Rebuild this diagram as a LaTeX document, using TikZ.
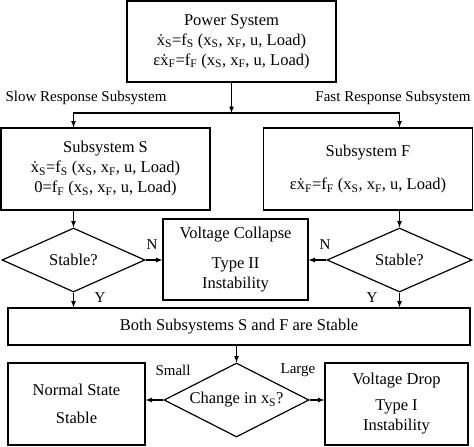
\documentclass[tikz,border=0pt]{standalone}
\usepackage{fontspec}
\setmainfont{Liberation Serif}
\usetikzlibrary{arrows, positioning, shapes.geometric}

\newcommand{\xdot}{\ooalign{x\cr\hidewidth˙\hidewidth\cr}}
\newcommand{\idx}[1]{\textsubscript{#1}}
\newcommand{\args}{(x\idx{S}, x\idx{F}, u, Load)}

\begin{document}
\begin{tikzpicture}
  [x = 1pt, y = -1pt, >=latex, line width = 1.2pt,
   font = \fontsize{16.5}{20}\selectfont,
   block/.style    = {draw, align=center, inner sep=0pt},
   decision/.style = {draw, diamond, aspect=2, inner sep=0pt},
   tag/.style      = {inner sep=0pt, font=\fontsize{15}{18}\selectfont}]

  \useasboundingbox (0,0) rectangle (474,447);

  \node[block, minimum width=209pt, minimum height=81pt] (power system) at (231.5,41.5)
    {Power System\\ \xdot\idx{S}=f\idx{S} \args\\ ε\xdot\idx{F}=f\idx{F} \args};
  \coordinate (split) at (231.5,113);

  \node[tag] (slow) at (86,98)  {Slow Response Subsystem};
  \node[tag] (fast) at (393,98) {Fast Response Subsystem};

  \node[block, minimum width=209pt, minimum height=82pt] (subsystem S) at (105.5,169)
    {Subsystem S\\ \xdot\idx{S}=f\idx{S} \args\\ 0=f\idx{F} \args};
  \node[block, minimum width=209pt, minimum height=82pt] (subsystem F) at (368,169)
    {Subsystem F\\[13pt] ε\xdot\idx{F}=f\idx{F} \args};

  \node[decision, minimum width=143pt, minimum height=64pt] (stable S) at (73.5,260) {Stable?};
  \node[decision, minimum width=145pt, minimum height=64pt] (stable F) at (399.5,260) {Stable?};
  \node[block, minimum width=145pt, minimum height=81pt] (collapse) at (235.5,259.5)
    {Voltage Collapse\\[10pt] Type II\\ Instability};

  \node[tag] (no S)  at (152,245) {N};
  \node[tag] (no F)  at (325,245) {N};
  \node[tag] (yes S) at (100,298) {Y};
  \node[tag] (yes F) at (372,298) {Y};

  \node[block, minimum width=462pt, minimum height=37pt] (both stable) at (239,326.5)
    {Both Subsystems S and F are Stable};

  \node[decision, minimum width=145pt, minimum height=74pt] (change) at (236.5,400)
    {Change in x\idx{S}?};
  \node[block, minimum width=137pt, minimum height=82pt] (normal) at (76.5,404)
    {Normal State\\[8pt] Stable};
  \node[block, minimum width=143pt, minimum height=82pt] (drop) at (396.5,404)
    {Voltage Drop\\[6pt] Type I\\ Instability};

  \node[tag] (small) at (173,370) {Small};
  \node[tag] (large) at (298,370) {Large};

  \draw[->] (power system) -- (split);
  \draw[->] (split) -| (subsystem S.north -| stable S.north);
  \draw[->] (split) -| (subsystem F.north -| stable F.north);
  \draw[->] (subsystem S.south -| stable S.north) -- (stable S.north);
  \draw[->] (subsystem F.south -| stable F.north) -- (stable F.north);
  \draw[->] (stable S.east) -- (stable S.east -| collapse.west);
  \draw[->] (stable F.west) -- (stable F.west -| collapse.east);
  \draw[->] (stable S.south) -- (stable S.south |- both stable.north);
  \draw[->] (stable F.south) -- (stable F.south |- both stable.north);
  \draw[->] (both stable.south -| change.north) -- (change.north);
  \draw[->] (change.west) -- (change.west -| normal.east);
  \draw[->] (change.east) -- (change.east -| drop.west);
\end{tikzpicture}
\end{document}
